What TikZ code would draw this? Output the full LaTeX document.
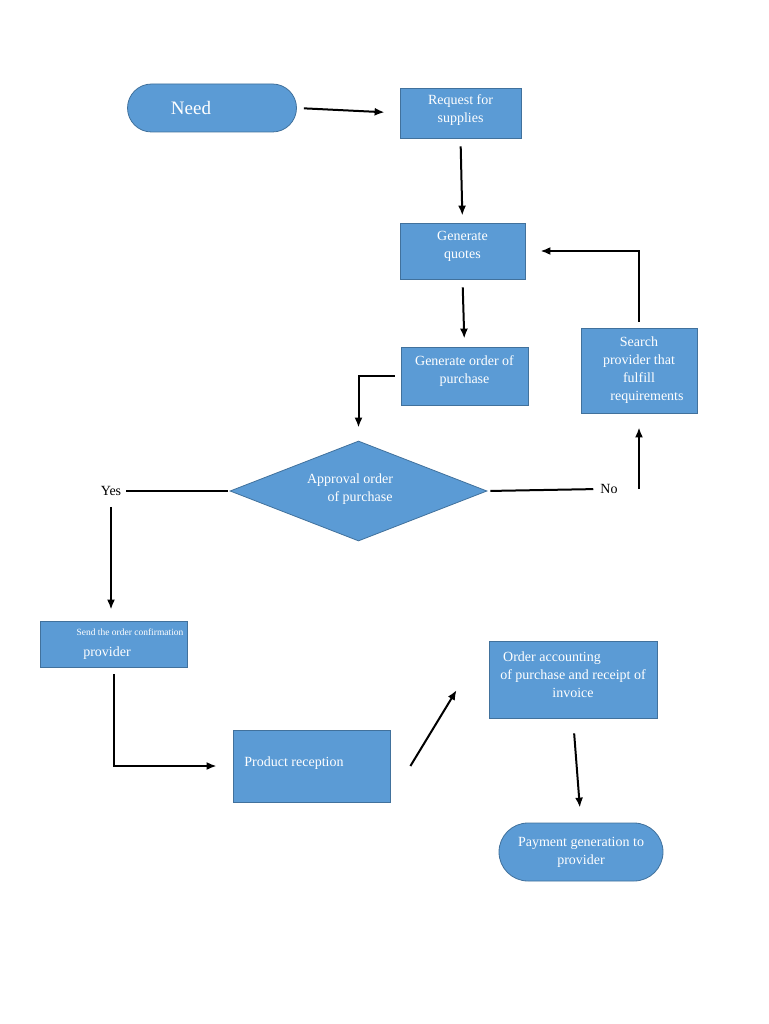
\documentclass[tikz,border=0pt]{standalone}
\usepackage{fontspec}
\setmainfont{Liberation Serif}
\usetikzlibrary{arrows.meta, shapes.geometric}
\definecolor{boxfill}{HTML}{5B9BD5}
\definecolor{boxline}{HTML}{41719C}
\tikzset{
  box/.style={rectangle,draw=boxline,fill=boxfill,line width=0.8pt,text=white,align=center,inner sep=2pt,font=\fontsize{14}{18}\selectfont},
  pill/.style={box,rounded corners=#1},
  decision/.style={diamond,draw=boxline,fill=boxfill,line width=0.8pt,text=white,align=center,inner sep=0pt,aspect=2.57,font=\fontsize{14}{18}\selectfont},
  tag/.style={inner sep=1pt,font=\fontsize{14}{18}\selectfont},
  link/.style={line width=2pt},
  line/.style={link,-{Latex[length=10pt,width=8pt]}}
}

\begin{document}
\begin{tikzpicture}[x=1pt,y=-1pt]
\useasboundingbox (0,0) rectangle (768,1024);
\node[pill=24pt, minimum width=169pt, minimum height=48pt, font=\fontsize{19}{22}\selectfont] (need) at (212,108) {Need\hspace*{42pt}};
\node[box, minimum width=121pt, minimum height=50pt] (req) at (460.5,113) {Request for\\supplies\\[-10pt]};
\node[box, minimum width=125pt, minimum height=56pt] (quotes) at (462.5,251) {Generate\\quotes\hspace*{30pt}\\[-6pt]};
\node[box, minimum width=127pt, minimum height=58pt] (gorder) at (464.5,376) {Generate order of\\purchase\\[-6pt]};
\node[box, minimum width=116pt, minimum height=85pt] (search) at (639,370.5) {Search\\provider that\hspace*{12pt}\\fulfill\hspace*{10pt}\\\hspace*{16pt}requirements};
\node[decision, minimum width=257pt, minimum height=100pt] (approve) at (358.5,491) {Approval order\hspace*{17pt}\\\hspace*{3pt}of purchase\\[-12pt]};
\node[tag] (yes) at (111,491) {Yes};
\node[tag] (no) at (609,489) {No};
\node[box, minimum width=147pt, minimum height=46pt] (send) at (113.5,644) {{\fontsize{9.5}{12}\selectfont\hspace*{33pt}Send the order confirmation}\\[3pt]provider\hspace*{13pt}};
\node[box, minimum width=157pt, minimum height=72pt] (recep) at (311.5,766) {Product reception\hspace*{35pt}\\[-9pt]};
\node[box, minimum width=168pt, minimum height=77pt] (acct) at (573,679.5) {Order accounting\hspace*{42pt}\\of purchase and receipt of\\invoice\\[-8pt]};
\node[pill=29pt, minimum width=164pt, minimum height=58pt] (pay) at (581,852) {Payment generation to\\provider};
\coordinate (nobend) at (search.south |- no);
% main flow
\draw[line, shorten <=7pt, shorten >=15pt] (need.east) -- (req.west);
\draw[line, shorten <=8pt, shorten >=7pt] (req.south) -- (quotes.north);
\draw[line, shorten <=8pt, shorten >=8pt] (quotes.south) -- (gorder.north);
\draw[line, shorten <=6pt, shorten >=13pt] (gorder.west) -| (approve.north);
% decision branches
\draw[link, shorten <=2pt, shorten >=4pt] (approve.west) -- (yes.east);
\draw[line, shorten <=10pt, shorten >=11pt] (yes.south) -- (yes.south |- send.north);
\draw[link, shorten <=3pt, shorten >=6pt] (approve.east) -- (no.west);
\draw[line, shorten >=14pt] (nobend) -- (search.south);
\draw[line, shorten <=6pt, shorten >=15pt] (search.north) |- (quotes.east);
% after approval
\draw[line, shorten <=7pt, shorten >=16pt] (send.south) |- (recep.west);
\draw[line] ([xshift=20pt]recep.east) -- ([xshift=-32pt,yshift=-10.5pt]acct.west);
\draw[line, shorten <=15pt, shorten >=15pt] (acct.south) -- (pay.north);
\end{tikzpicture}
\end{document}
